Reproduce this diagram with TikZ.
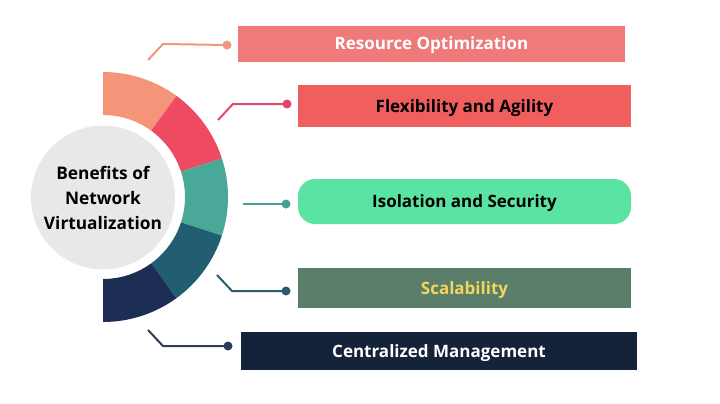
\documentclass[tikz,border=0pt]{standalone}
\usepackage{fontspec}
\setmainfont{Open Sans}
\definecolor{segA}{HTML}{F4957A}
\definecolor{segB}{HTML}{EE4B63}
\definecolor{segC}{HTML}{4AA898}
\definecolor{segD}{HTML}{225E72}
\definecolor{segE}{HTML}{1D2E55}
\definecolor{lnA}{HTML}{F0957E}
\definecolor{lnB}{HTML}{E0476A}
\definecolor{lnC}{HTML}{4A9E96}
\definecolor{lnD}{HTML}{2B5B6A}
\definecolor{lnE}{HTML}{2C3E55}
\definecolor{boxA}{HTML}{EE7A7A}
\definecolor{boxB}{HTML}{F05E5E}
\definecolor{boxC}{HTML}{5BE3A4}
\definecolor{boxD}{HTML}{5B7E6B}
\definecolor{boxE}{HTML}{15233A}
\definecolor{yel}{HTML}{F2D55A}
\definecolor{hub}{HTML}{E8E8E8}
\tikzset{
  benefit/.style={anchor=center, inner sep=0pt, text height=12pt, text depth=0pt,
    font=\bfseries\fontsize{17}{20}\selectfont},
  conn/.style={line width=2pt},
  dotend/.style={circle, inner sep=0pt, minimum size=9pt},
}
\begin{document}
\begin{tikzpicture}[x=1pt,y=-1pt]
\useasboundingbox (0,0) rectangle (720,404);
% ring segments
\begin{scope}[shift={(103,197)}]
\foreach \a/\b/\c in {90/54/segA,54/18/segB,18/-18/segC,-18/-54/segD,-54/-90/segE}{
  \fill[\c] (\a:125pt) arc[start angle=\a, end angle=\b, radius=125pt]
     -- (\b:82pt) arc[start angle=\b, end angle=\a, radius=82pt] -- cycle;
}
\end{scope}
\node[circle, fill=hub, minimum size=144pt, inner sep=0pt, align=center,
  font=\bfseries\fontsize{17.3}{25}\selectfont] (hubn) at (103,197.5) {Benefits of\\Network\\Virtualization};
% boxes
\node[fill=boxA, minimum width=387pt, minimum height=36pt, benefit, text=white] (b1) at (431.5,44) {Resource Optimization};
\node[fill=boxB, minimum width=333pt, minimum height=42pt, benefit, text=black] (b2) at (464.5,106) {Flexibility and Agility};
\node[fill=boxC, minimum width=333pt, minimum height=45pt, benefit, text=black, rounded corners=17pt] (b3) at (464.5,201.5) {Isolation and Security};
\node[fill=boxD, minimum width=333pt, minimum height=40pt, benefit, text=yel] (b4) at (464.5,288) {Scalability};
\node[fill=boxE, minimum width=396pt, minimum height=38pt, benefit, text=white] (b5) at (439,351) {Centralized Management};
% connector ends
\node[dotend, fill=lnA] (d1) at (227,45) {};
\node[dotend, fill=lnB] (d2) at (287,104) {};
\node[dotend, fill=lnC] (d3) at (286,204) {};
\node[dotend, fill=lnD] (d4) at (286,291) {};
\node[dotend, fill=lnE] (d5) at (228,346) {};
\coordinate (s1) at (148,60);
\coordinate (s2) at (218,120);
\coordinate (s3) at (243,204);
\coordinate (s4) at (217,275);
\coordinate (s5) at (148,330);
\draw[conn, lnA] (s1) -- (163,44) -- (d1.center);
\draw[conn, lnB] (s2) -- (233,104) -- (d2.center);
\draw[conn, lnC] (s3) -- (d3.center);
\draw[conn, lnD] (s4) -- (232,291) -- (d4.center);
\draw[conn, lnE] (s5) -- (163,346) -- (d5.center);
\end{tikzpicture}
\end{document}
